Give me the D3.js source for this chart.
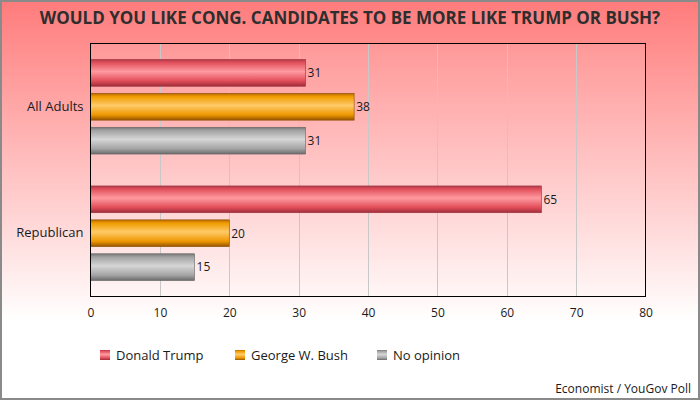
<!DOCTYPE html>
<html><head><meta charset="utf-8">
<script src="https://cdn.jsdelivr.net/npm/d3@7"></script>
<style>body{margin:0;padding:0;}svg{display:block;font-family:"Open Sans",sans-serif;}</style>
</head><body>
<script>
const title = "WOULD YOU LIKE CONG. CANDIDATES TO BE MORE LIKE TRUMP OR BUSH?";
const groups = ["All Adults", "Republican"];
const seriesNames = ["Donald Trump", "George W. Bush", "No opinion"];
const trumpValues = [31, 65];
const bushValues = [38, 20];
const noOpinionValues = [31, 15];
const xTicks = [0, 10, 20, 30, 40, 50, 60, 70, 80];
const footer = "Economist / YouGov Poll";

const seriesValues = [trumpValues, bushValues, noOpinionValues];
const W = 700, H = 400;
const svg = d3.select("body").append("svg").attr("width", W).attr("height", H);
const defs = svg.append("defs");

const bg = defs.append("linearGradient").attr("id","bg").attr("x1",0).attr("y1",0).attr("x2",0).attr("y2",1);
bg.append("stop").attr("offset","0%").attr("stop-color","#ff7b7b");
bg.append("stop").attr("offset","80%").attr("stop-color","#ffffff");
bg.append("stop").attr("offset","100%").attr("stop-color","#ffffff");

const gradStops = [
  [["0%","#b03a48"],["12%","#e2505c"],["45%","#ff9aa0"],["80%","#e24e5a"],["100%","#a02c3a"]],
  [["0%","#b86800"],["12%","#f09c00"],["45%","#ffca68"],["80%","#ee9800"],["100%","#965400"]],
  [["0%","#767676"],["12%","#a2a2a2"],["45%","#d6d6d6"],["80%","#a4a4a4"],["100%","#6a6a6a"]]
];
const strokeCols = ["#9a3040","#8a5000","#666666"];
gradStops.forEach((st,i)=>{
  const g = defs.append("linearGradient").attr("id","g"+i).attr("x1",0).attr("y1",0).attr("x2",0).attr("y2",1);
  st.forEach(s=>g.append("stop").attr("offset",s[0]).attr("stop-color",s[1]));
});

svg.append("rect").attr("x",0).attr("y",0).attr("width",W).attr("height",H).attr("fill","url(#bg)");
svg.append("rect").attr("x",1).attr("y",1).attr("width",W-2).attr("height",H-2)
  .attr("fill","none").attr("stroke","#8a8a8a").attr("stroke-width",2);

const L = 90.5, R = 645.5, T = 43.5, B = 296.5;
const x = d3.scaleLinear().domain([0, 80]).range([L, R]);
const y0 = d3.scaleBand().domain(groups).range([T, B]).padding(0);
const y1 = d3.scaleBand().domain(seriesNames).range([0, y0.bandwidth()]).paddingInner(0.21).paddingOuter(0.47);

svg.append("rect").attr("x",L).attr("y",T).attr("width",R-L).attr("height",B-T)
  .attr("fill","#ffffff").attr("fill-opacity",0.1);

svg.append("g").selectAll("line").data(xTicks.slice(1, -1)).join("line")
  .attr("x1",d=>Math.round(x(d))+0.5).attr("x2",d=>Math.round(x(d))+0.5)
  .attr("y1",T).attr("y2",B).attr("stroke","#c8c8c8").attr("stroke-width",1);

svg.append("text").attr("x",350).attr("y",24).attr("text-anchor","middle")
  .attr("font-size",17).attr("font-weight","bold").attr("fill","#2e2e2e").text(title);

const rows = [];
groups.forEach((g,gi)=>seriesNames.forEach((s,si)=>rows.push({g, s, si, v: seriesValues[si][gi]})));

svg.append("g").selectAll("rect").data(rows).join("rect")
  .attr("x", x(0))
  .attr("y", d=>y0(d.g)+y1(d.s))
  .attr("width", d=>x(d.v)-x(0))
  .attr("height", y1.bandwidth())
  .attr("fill", d=>"url(#g"+d.si+")")
  .attr("stroke", d=>strokeCols[d.si]).attr("stroke-width",0.6);

svg.append("g").selectAll("text").data(rows).join("text")
  .attr("x", d=>x(d.v)+2)
  .attr("y", d=>y0(d.g)+y1(d.s)+y1.bandwidth()/2)
  .attr("dy","0.36em")
  .attr("font-size",12).attr("fill","#1a1a1a").text(d=>d.v);

svg.append("rect").attr("x",L).attr("y",T).attr("width",R-L).attr("height",B-T)
  .attr("fill","none").attr("stroke","#000").attr("stroke-width",1);

const xAxis = svg.append("g").attr("transform",`translate(0,${B})`)
  .call(d3.axisBottom(x).tickValues(xTicks).tickSize(0).tickPadding(12));
xAxis.select(".domain").remove();
xAxis.selectAll("text").attr("font-size",12).attr("fill","#1a1a1a").attr("font-family","Open Sans, sans-serif");

const yAxis = svg.append("g").attr("transform",`translate(${L},0)`)
  .call(d3.axisLeft(y0).tickSize(0).tickPadding(7));
yAxis.select(".domain").remove();
yAxis.selectAll("text").attr("font-size",13).attr("fill","#1a1a1a").attr("font-family","Open Sans, sans-serif");

const legendX = [100, 235, 377];
const lg = svg.append("g").selectAll("g").data(seriesNames).join("g")
  .attr("transform",(d,i)=>`translate(${legendX[i]},350)`);
lg.append("rect").attr("width",10).attr("height",10).attr("fill",(d,i)=>"url(#g"+i+")");
lg.append("text").attr("x",16).attr("y",9.5).attr("font-size",13).attr("fill","#1a1a1a").text(d=>d);

svg.append("text").attr("x",691).attr("y",393).attr("text-anchor","end")
  .attr("font-size",12).attr("fill","#1a1a1a").text(footer);
</script>
</body></html>
